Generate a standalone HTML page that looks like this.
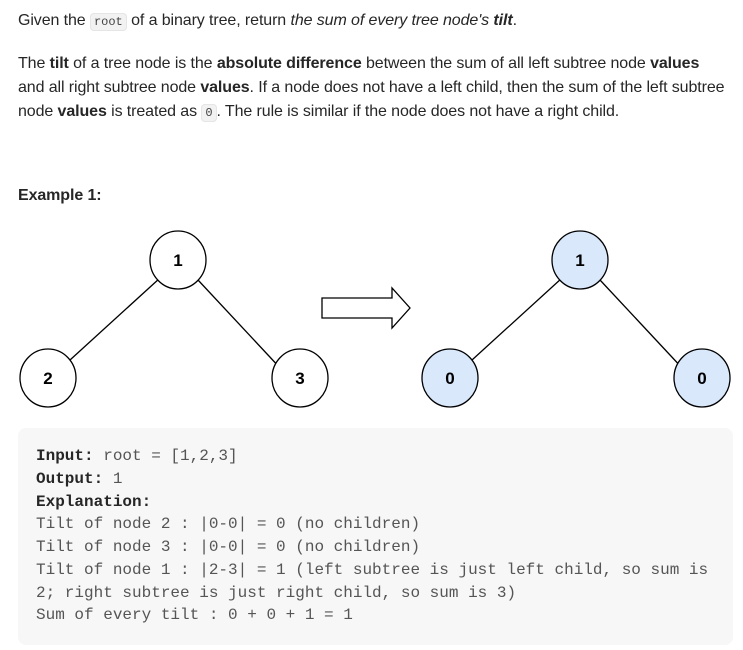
<!DOCTYPE html>
<html><head><meta charset="utf-8"><style>
body{margin:0;width:743px;height:650px;background:#fff;font-family:"Liberation Sans",sans-serif;color:#262626;overflow:hidden;position:relative}
.t{position:absolute;left:18px;font-size:16px;white-space:nowrap;letter-spacing:-0.1px}
code{font-family:"Liberation Mono",monospace;font-size:12px;background:#f2f2f3;border:1px solid #e5e5e5;border-radius:4px;padding:1px 3px;color:#444;letter-spacing:0}
.pre{position:absolute;left:18px;top:428px;width:715px;height:217px;background:#f7f7f8;border-radius:8px}
.l{position:absolute;left:36px;font-family:"Liberation Mono",monospace;font-size:16px;color:#555;white-space:pre}
.l b{color:#262626}
</style></head><body>
<div class="t" style="top:12px">Given the <code>root</code> of a binary tree, return <i>the sum of every tree node's <b>tilt</b></i>.</div>
<div class="t" style="top:55px">The <b>tilt</b> of a tree node is the <b>absolute difference</b> between the sum of all left subtree node <b>values</b></div>
<div class="t" style="top:79px">and all right subtree node <b>values</b>. If a node does not have a left child, then the sum of the left subtree</div>
<div class="t" style="top:103px">node <b>values</b> is treated as <code>0</code>. The rule is similar if the node does not have a right child.</div>
<div class="t" style="top:187px"><b>Example 1:</b></div>
<svg style="position:absolute;left:0;top:220px" width="743" height="200">
<g stroke="#000" stroke-width="1.3" fill="none">
<line x1="160" y1="58" x2="70" y2="140"/><line x1="198" y1="60" x2="282" y2="150"/>
<line x1="562" y1="58" x2="472" y2="140"/><line x1="600" y1="60" x2="684" y2="150"/>
<ellipse cx="178" cy="40" rx="28" ry="29" fill="#fff"/>
<ellipse cx="48" cy="158" rx="28" ry="29" fill="#fff"/>
<ellipse cx="300" cy="158" rx="28" ry="29" fill="#fff"/>
<ellipse cx="580" cy="40" rx="28" ry="29" fill="#dae8fc"/>
<ellipse cx="450" cy="158" rx="28" ry="29" fill="#dae8fc"/>
<ellipse cx="702" cy="158" rx="28" ry="29" fill="#dae8fc"/>
<polygon points="322,78 392,78 392,68 410,88 392,108 392,98 322,98" fill="#fff"/>
</g>
<g font-family="Liberation Sans" font-weight="bold" font-size="17" text-anchor="middle">
<text x="178" y="46">1</text><text x="48" y="164">2</text><text x="300" y="164">3</text>
<text x="580" y="46">1</text><text x="450" y="164">0</text><text x="702" y="164">0</text>
</g></svg>
<div class="pre"></div>
<div class="l" style="top:447px"><b>Input:</b> root = [1,2,3]</div>
<div class="l" style="top:470px"><b>Output:</b> 1</div>
<div class="l" style="top:493px"><b>Explanation:</b></div>
<div class="l" style="top:515px">Tilt of node 2 : |0-0| = 0 (no children)</div>
<div class="l" style="top:538px">Tilt of node 3 : |0-0| = 0 (no children)</div>
<div class="l" style="top:561px">Tilt of node 1 : |2-3| = 1 (left subtree is just left child, so sum is</div>
<div class="l" style="top:584px">2; right subtree is just right child, so sum is 3)</div>
<div class="l" style="top:606px">Sum of every tilt : 0 + 0 + 1 = 1</div>
</body></html>
